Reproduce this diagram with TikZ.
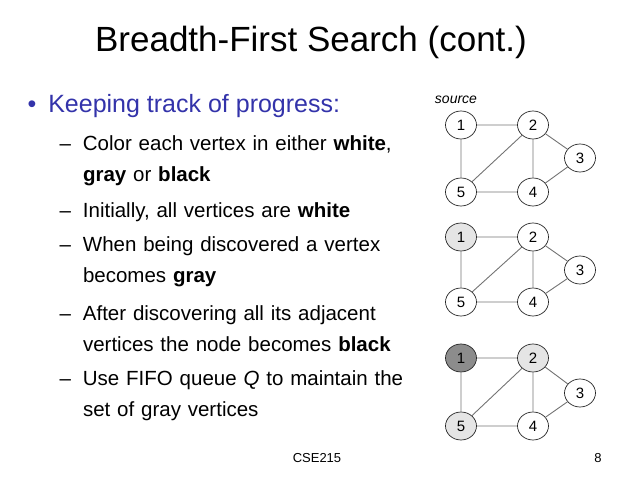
\documentclass[tikz,border=0pt]{standalone}
\usepackage{fontspec}
\usetikzlibrary{shapes.geometric}
\setmainfont{Liberation Sans}
\definecolor{bl}{RGB}{51,51,170}
\begin{document}
\begin{tikzpicture}[x=1pt,y=-1pt,
  v/.style={draw=black!85,ellipse,minimum width=31pt,minimum height=28pt,inner sep=0pt,font=\fontsize{15}{15}\selectfont,line width=0.7pt},
  e/.style={draw=black!55,line width=0.9pt},
  sub/.style={anchor=west,font=\fontsize{20.5}{31}\selectfont,align=left,text width=360pt}]
\path[use as bounding box] (0,0) rectangle (638,478);
\node[anchor=center,font=\fontsize{35}{35}\selectfont] (title) at (311,42) {Breadth-First Search (cont.)};
\node[anchor=west,text=bl,font=\fontsize{25}{25}\selectfont] (b1) at (24,106) {•\hspace{12pt}Keeping track of progress:};
\node[sub] (s1) at (56,161) {–\hspace{12pt}Color each vertex in either \textbf{white},\\\hspace{23.5pt}\textbf{gray} or \textbf{black}};
\node[sub] (s2) at (56,212) {–\hspace{12pt}Initially, all vertices are \textbf{white}};
\node[sub] (s3) at (56,262) {–\hspace{12pt}When being discovered a vertex\\\hspace{23.5pt}becomes \textbf{gray}};
\node[sub] (s4) at (56,329) {–\hspace{12pt}After discovering all its adjacent\\\hspace{23.5pt}vertices the node becomes \textbf{black}};
\node[sub] (s5) at (56,396) {–\hspace{12pt}Use FIFO queue \textit{Q} to maintain the\\\hspace{23.5pt}set of gray vertices};
\node[font=\fontsize{13}{13}\selectfont] (f1) at (317,458) {CSE215};
\node[font=\fontsize{13}{13}\selectfont] (f2) at (598,458) {8};
\node[font=\itshape\fontsize{14}{14}\selectfont] (src) at (456,100) {source};
\foreach \g/\yt/\yb/\ya/\ca/\cb/\cc in {a/125/192/158/white/white/white, b/237/302/270/black!10/white/white, c/358/426/393/black!45/black!10/black!10}{
  \node[v,fill=\ca] (\g1) at (461,\yt) {1};
  \node[v,fill=\cb] (\g2) at (533,\yt) {2};
  \node[v,fill=white] (\g3) at (580,\ya) {3};
  \node[v,fill=white] (\g4) at (533,\yb) {4};
  \node[v,fill=\cc] (\g5) at (461,\yb) {5};
  \draw[e] (\g1)--(\g2) (\g1)--(\g5) (\g2)--(\g5) (\g2)--(\g4) (\g2)--(\g3) (\g3)--(\g4) (\g5)--(\g4);
}
\end{tikzpicture}
\end{document}
